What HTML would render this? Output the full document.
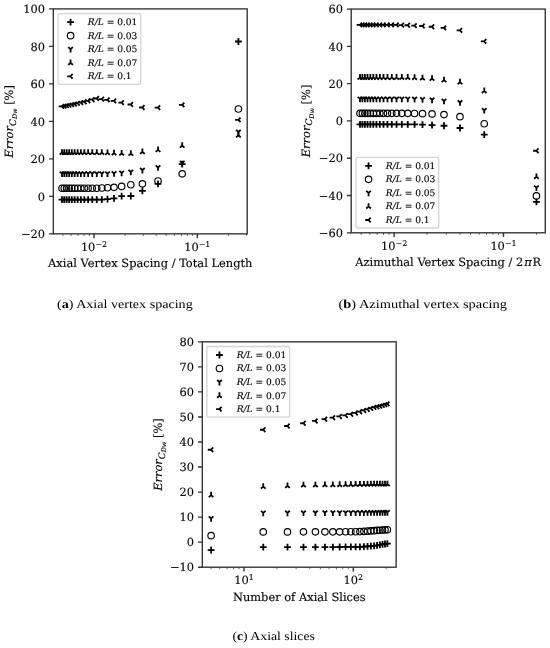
<!DOCTYPE html>
<html lang="en"><head><meta charset="utf-8"><title>Figure</title>
<style>
html,body{margin:0;padding:0;background:#fff;}
body{width:550px;height:648px;overflow:hidden;}
svg{display:block;}
</style></head><body>
<svg width="550" height="648" viewBox="0 0 550 648" text-rendering="geometricPrecision">
<rect width="550" height="648" fill="#fff"/>
<defs>
<g id="m0"><path d="M-3.4,0H3.4M0,-3.4V3.4"/></g>
<g id="m1"><circle r="3.25" fill="none" stroke-width="1.15"/></g>
<g id="m2"><path d="M0,0V3.3M0,0L2.32,-2.07M0,0L-2.32,-2.07"/></g>
<g id="m3"><path d="M0,0V-3.3M0,0L2.32,2.07M0,0L-2.32,2.07"/></g>
<g id="m4"><path d="M0,0H-3.3M0,0L2.07,2.32M0,0L2.07,-2.32"/></g>
</defs>
<g stroke="#000" stroke-width="1.8" fill="none">
<use href="#m0" x="238.41" y="41.52"/>
<use href="#m0" x="182.20" y="164.12"/>
<use href="#m0" x="158.02" y="183.80"/>
<use href="#m0" x="142.40" y="190.92"/>
<use href="#m0" x="130.83" y="195.98"/>
<use href="#m0" x="121.64" y="196.17"/>
<use href="#m0" x="114.02" y="198.42"/>
<use href="#m0" x="107.51" y="199.17"/>
<use href="#m0" x="101.82" y="199.55"/>
<use href="#m0" x="96.78" y="199.55"/>
<use href="#m0" x="92.24" y="199.55"/>
<use href="#m0" x="88.12" y="199.55"/>
<use href="#m0" x="84.35" y="199.55"/>
<use href="#m0" x="80.87" y="199.55"/>
<use href="#m0" x="77.64" y="199.55"/>
<use href="#m0" x="74.63" y="199.55"/>
<use href="#m0" x="71.81" y="199.55"/>
<use href="#m0" x="69.15" y="199.55"/>
<use href="#m0" x="66.64" y="199.55"/>
<use href="#m0" x="64.27" y="199.55"/>
<use href="#m0" x="62.02" y="199.55"/>
<use href="#m1" x="238.41" y="109.00"/>
<use href="#m1" x="182.20" y="173.86"/>
<use href="#m1" x="158.02" y="180.99"/>
<use href="#m1" x="142.40" y="183.80"/>
<use href="#m1" x="130.83" y="184.74"/>
<use href="#m1" x="121.64" y="186.42"/>
<use href="#m1" x="114.02" y="187.36"/>
<use href="#m1" x="107.51" y="187.74"/>
<use href="#m1" x="101.82" y="188.02"/>
<use href="#m1" x="96.78" y="188.20"/>
<use href="#m1" x="92.24" y="188.20"/>
<use href="#m1" x="88.12" y="188.20"/>
<use href="#m1" x="84.35" y="188.20"/>
<use href="#m1" x="80.87" y="188.20"/>
<use href="#m1" x="77.64" y="188.20"/>
<use href="#m1" x="74.63" y="188.20"/>
<use href="#m1" x="71.81" y="188.20"/>
<use href="#m1" x="69.15" y="188.20"/>
<use href="#m1" x="66.64" y="188.20"/>
<use href="#m1" x="64.27" y="188.20"/>
<use href="#m1" x="62.02" y="188.20"/>
<use href="#m2" x="238.41" y="131.87"/>
<use href="#m2" x="182.20" y="162.99"/>
<use href="#m2" x="158.02" y="167.49"/>
<use href="#m2" x="142.40" y="170.11"/>
<use href="#m2" x="130.83" y="171.99"/>
<use href="#m2" x="121.64" y="172.93"/>
<use href="#m2" x="114.02" y="173.49"/>
<use href="#m2" x="107.51" y="173.68"/>
<use href="#m2" x="101.82" y="173.68"/>
<use href="#m2" x="96.78" y="173.68"/>
<use href="#m2" x="92.24" y="173.68"/>
<use href="#m2" x="88.12" y="173.68"/>
<use href="#m2" x="84.35" y="173.68"/>
<use href="#m2" x="80.87" y="173.68"/>
<use href="#m2" x="77.64" y="173.68"/>
<use href="#m2" x="74.63" y="173.68"/>
<use href="#m2" x="71.81" y="173.68"/>
<use href="#m2" x="69.15" y="173.68"/>
<use href="#m2" x="66.64" y="173.68"/>
<use href="#m2" x="64.27" y="173.68"/>
<use href="#m2" x="62.02" y="173.68"/>
<use href="#m3" x="238.41" y="135.25"/>
<use href="#m3" x="182.20" y="145.56"/>
<use href="#m3" x="158.02" y="149.87"/>
<use href="#m3" x="142.40" y="151.74"/>
<use href="#m3" x="130.83" y="153.62"/>
<use href="#m3" x="121.64" y="153.24"/>
<use href="#m3" x="114.02" y="153.06"/>
<use href="#m3" x="107.51" y="152.68"/>
<use href="#m3" x="101.82" y="152.59"/>
<use href="#m3" x="96.78" y="152.59"/>
<use href="#m3" x="92.24" y="152.59"/>
<use href="#m3" x="88.12" y="152.59"/>
<use href="#m3" x="84.35" y="152.59"/>
<use href="#m3" x="80.87" y="152.59"/>
<use href="#m3" x="77.64" y="152.59"/>
<use href="#m3" x="74.63" y="152.59"/>
<use href="#m3" x="71.81" y="152.59"/>
<use href="#m3" x="69.15" y="152.59"/>
<use href="#m3" x="66.64" y="152.59"/>
<use href="#m3" x="64.27" y="152.59"/>
<use href="#m3" x="62.02" y="152.59"/>
<use href="#m4" x="238.41" y="119.88"/>
<use href="#m4" x="182.20" y="104.88"/>
<use href="#m4" x="158.02" y="107.69"/>
<use href="#m4" x="142.40" y="107.50"/>
<use href="#m4" x="130.83" y="104.50"/>
<use href="#m4" x="121.64" y="102.63"/>
<use href="#m4" x="114.02" y="100.94"/>
<use href="#m4" x="107.51" y="99.82"/>
<use href="#m4" x="101.82" y="99.07"/>
<use href="#m4" x="96.78" y="98.51"/>
<use href="#m4" x="92.24" y="99.72"/>
<use href="#m4" x="88.12" y="100.79"/>
<use href="#m4" x="84.35" y="101.75"/>
<use href="#m4" x="80.87" y="102.60"/>
<use href="#m4" x="77.64" y="103.36"/>
<use href="#m4" x="74.63" y="104.05"/>
<use href="#m4" x="71.81" y="104.66"/>
<use href="#m4" x="69.15" y="105.20"/>
<use href="#m4" x="66.64" y="105.68"/>
<use href="#m4" x="64.27" y="106.08"/>
<use href="#m4" x="62.02" y="106.38"/>
</g>
<path d="M53.30,233.85h-4.3M53.30,196.36h-4.3M53.30,158.87h-4.3M53.30,121.38h-4.3M53.30,83.88h-4.3M53.30,46.39h-4.3M53.30,8.90h-4.3M94.00,233.85v4.3M197.30,233.85v4.3" stroke="#303030" stroke-width="1.35" fill="none"/>
<path d="M62.90,233.85v2.1M71.08,233.85v2.1M78.00,233.85v2.1M83.99,233.85v2.1M89.27,233.85v2.1M125.10,233.85v2.1M143.29,233.85v2.1M156.19,233.85v2.1M166.20,233.85v2.1M174.38,233.85v2.1M181.30,233.85v2.1M187.29,233.85v2.1M192.57,233.85v2.1M228.40,233.85v2.1M246.59,233.85v2.1" stroke="#000" stroke-width="0.6" fill="none"/>
<rect x="58.00" y="13.60" width="82.7" height="70.7" rx="2" ry="2" fill="#fff" fill-opacity="0.8" stroke="#d4d4d4" stroke-width="1.3"/>
<g stroke="#000" stroke-width="1.8" fill="none">
<use href="#m0" x="70.55" y="22.10"/>
<use href="#m1" x="70.55" y="35.65"/>
<use href="#m2" x="70.55" y="49.20"/>
<use href="#m3" x="70.55" y="62.75"/>
<use href="#m4" x="70.55" y="76.30"/>
</g>
<g font-family="'DejaVu Serif','Liberation Serif',serif" font-size="9.1" fill="#000" stroke="#000" stroke-width="0.12">
<text x="87.80" y="25.00"><tspan font-style="italic">R/L</tspan> = 0.01</text>
<text x="87.80" y="38.55"><tspan font-style="italic">R/L</tspan> = 0.03</text>
<text x="87.80" y="52.10"><tspan font-style="italic">R/L</tspan> = 0.05</text>
<text x="87.80" y="65.65"><tspan font-style="italic">R/L</tspan> = 0.07</text>
<text x="87.80" y="79.20"><tspan font-style="italic">R/L</tspan> = 0.1</text>
</g>
<rect x="53.30" y="8.90" width="193.90" height="224.95" fill="none" stroke="#303030" stroke-width="1.35"/>
<g font-family="'DejaVu Serif','Liberation Serif',serif" font-size="11.4" fill="#000" stroke="#000" stroke-width="0.12">
<text x="45.00" y="238.10" text-anchor="end">−20</text>
<text x="45.00" y="200.61" text-anchor="end">0</text>
<text x="45.00" y="163.12" text-anchor="end">20</text>
<text x="45.00" y="125.62" text-anchor="end">40</text>
<text x="45.00" y="88.13" text-anchor="end">60</text>
<text x="45.00" y="50.64" text-anchor="end">80</text>
<text x="45.00" y="13.15" text-anchor="end">100</text>
<text x="94.00" y="250.85" text-anchor="middle">10<tspan font-size="7.98" dy="-4.1">−2</tspan></text>
<text x="197.30" y="250.85" text-anchor="middle">10<tspan font-size="7.98" dy="-4.1">−1</tspan></text>
</g>
<text x="150.25" y="267.35" text-anchor="middle" font-family="'DejaVu Serif','Liberation Serif',serif" font-size="11.43" fill="#000" stroke="#000" stroke-width="0.12">Axial Vertex Spacing / Total Length</text>
<text transform="translate(13.30,121.38) rotate(-90)" text-anchor="middle" font-family="'DejaVu Serif','Liberation Serif',serif" font-size="11.43" fill="#000" stroke="#000" stroke-width="0.12"><tspan font-style="italic">Error</tspan><tspan font-style="italic" font-size="9.14" dy="2.4">C</tspan><tspan font-style="italic" font-size="6.40" dy="1.5">Dw</tspan><tspan dy="-3.9"> [%]</tspan></text>
<g stroke="#000" stroke-width="1.8" fill="none">
<use href="#m0" x="536.43" y="201.85"/>
<use href="#m0" x="484.24" y="134.72"/>
<use href="#m0" x="459.97" y="128.01"/>
<use href="#m0" x="443.98" y="125.77"/>
<use href="#m0" x="432.04" y="125.03"/>
<use href="#m0" x="422.50" y="124.65"/>
<use href="#m0" x="414.57" y="124.47"/>
<use href="#m0" x="407.77" y="124.28"/>
<use href="#m0" x="401.82" y="124.28"/>
<use href="#m0" x="396.54" y="124.28"/>
<use href="#m0" x="391.78" y="124.28"/>
<use href="#m0" x="387.46" y="124.28"/>
<use href="#m0" x="383.50" y="124.28"/>
<use href="#m0" x="379.84" y="124.28"/>
<use href="#m0" x="376.45" y="124.28"/>
<use href="#m0" x="373.28" y="124.28"/>
<use href="#m0" x="370.31" y="124.28"/>
<use href="#m0" x="367.51" y="124.28"/>
<use href="#m0" x="364.87" y="124.28"/>
<use href="#m0" x="362.37" y="124.28"/>
<use href="#m0" x="359.99" y="124.28"/>
<use href="#m1" x="536.43" y="195.88"/>
<use href="#m1" x="484.24" y="123.72"/>
<use href="#m1" x="459.97" y="116.64"/>
<use href="#m1" x="443.98" y="114.59"/>
<use href="#m1" x="432.04" y="113.93"/>
<use href="#m1" x="422.50" y="113.65"/>
<use href="#m1" x="414.57" y="113.47"/>
<use href="#m1" x="407.77" y="113.37"/>
<use href="#m1" x="401.82" y="113.37"/>
<use href="#m1" x="396.54" y="113.37"/>
<use href="#m1" x="391.78" y="113.37"/>
<use href="#m1" x="387.46" y="113.37"/>
<use href="#m1" x="383.50" y="113.37"/>
<use href="#m1" x="379.84" y="113.37"/>
<use href="#m1" x="376.45" y="113.37"/>
<use href="#m1" x="373.28" y="113.37"/>
<use href="#m1" x="370.31" y="113.37"/>
<use href="#m1" x="367.51" y="113.37"/>
<use href="#m1" x="364.87" y="113.37"/>
<use href="#m1" x="362.37" y="113.37"/>
<use href="#m1" x="359.99" y="113.37"/>
<use href="#m2" x="536.43" y="187.68"/>
<use href="#m2" x="484.24" y="110.30"/>
<use href="#m2" x="459.97" y="102.47"/>
<use href="#m2" x="443.98" y="100.97"/>
<use href="#m2" x="432.04" y="99.86"/>
<use href="#m2" x="422.50" y="99.39"/>
<use href="#m2" x="414.57" y="99.11"/>
<use href="#m2" x="407.77" y="98.92"/>
<use href="#m2" x="401.82" y="98.92"/>
<use href="#m2" x="396.54" y="98.92"/>
<use href="#m2" x="391.78" y="98.92"/>
<use href="#m2" x="387.46" y="98.92"/>
<use href="#m2" x="383.50" y="98.92"/>
<use href="#m2" x="379.84" y="98.92"/>
<use href="#m2" x="376.45" y="98.92"/>
<use href="#m2" x="373.28" y="98.92"/>
<use href="#m2" x="370.31" y="98.92"/>
<use href="#m2" x="367.51" y="98.92"/>
<use href="#m2" x="364.87" y="98.92"/>
<use href="#m2" x="362.37" y="98.92"/>
<use href="#m2" x="359.99" y="98.92"/>
<use href="#m3" x="536.43" y="176.68"/>
<use href="#m3" x="484.24" y="90.91"/>
<use href="#m3" x="459.97" y="82.14"/>
<use href="#m3" x="443.98" y="80.09"/>
<use href="#m3" x="432.04" y="78.60"/>
<use href="#m3" x="422.50" y="78.04"/>
<use href="#m3" x="414.57" y="77.67"/>
<use href="#m3" x="407.77" y="77.39"/>
<use href="#m3" x="401.82" y="77.39"/>
<use href="#m3" x="396.54" y="77.39"/>
<use href="#m3" x="391.78" y="77.39"/>
<use href="#m3" x="387.46" y="77.39"/>
<use href="#m3" x="383.50" y="77.39"/>
<use href="#m3" x="379.84" y="77.39"/>
<use href="#m3" x="376.45" y="77.39"/>
<use href="#m3" x="373.28" y="77.39"/>
<use href="#m3" x="370.31" y="77.39"/>
<use href="#m3" x="367.51" y="77.39"/>
<use href="#m3" x="364.87" y="77.39"/>
<use href="#m3" x="362.37" y="77.39"/>
<use href="#m3" x="359.99" y="77.39"/>
<use href="#m4" x="536.43" y="150.76"/>
<use href="#m4" x="484.24" y="41.31"/>
<use href="#m4" x="459.97" y="30.31"/>
<use href="#m4" x="443.98" y="27.88"/>
<use href="#m4" x="432.04" y="26.76"/>
<use href="#m4" x="422.50" y="26.02"/>
<use href="#m4" x="414.57" y="25.64"/>
<use href="#m4" x="407.77" y="25.27"/>
<use href="#m4" x="401.82" y="25.09"/>
<use href="#m4" x="396.54" y="24.90"/>
<use href="#m4" x="391.78" y="24.90"/>
<use href="#m4" x="387.46" y="24.90"/>
<use href="#m4" x="383.50" y="24.90"/>
<use href="#m4" x="379.84" y="24.90"/>
<use href="#m4" x="376.45" y="24.90"/>
<use href="#m4" x="373.28" y="24.90"/>
<use href="#m4" x="370.31" y="24.90"/>
<use href="#m4" x="367.51" y="24.90"/>
<use href="#m4" x="364.87" y="24.90"/>
<use href="#m4" x="362.37" y="24.90"/>
<use href="#m4" x="359.99" y="24.90"/>
</g>
<path d="M351.20,232.80h-4.3M351.20,195.51h-4.3M351.20,158.22h-4.3M351.20,120.93h-4.3M351.20,83.63h-4.3M351.20,46.34h-4.3M351.20,9.05h-4.3M394.10,232.80v4.3M503.50,232.80v4.3" stroke="#303030" stroke-width="1.35" fill="none"/>
<path d="M361.17,232.80v2.1M369.83,232.80v2.1M377.15,232.80v2.1M383.50,232.80v2.1M389.09,232.80v2.1M427.03,232.80v2.1M446.30,232.80v2.1M459.97,232.80v2.1M470.57,232.80v2.1M479.23,232.80v2.1M486.55,232.80v2.1M492.90,232.80v2.1M498.49,232.80v2.1M536.43,232.80v2.1" stroke="#000" stroke-width="0.6" fill="none"/>
<rect x="356.00" y="157.30" width="82.7" height="70.7" rx="2" ry="2" fill="#fff" fill-opacity="0.8" stroke="#d4d4d4" stroke-width="1.3"/>
<g stroke="#000" stroke-width="1.8" fill="none">
<use href="#m0" x="368.55" y="165.80"/>
<use href="#m1" x="368.55" y="179.35"/>
<use href="#m2" x="368.55" y="192.90"/>
<use href="#m3" x="368.55" y="206.45"/>
<use href="#m4" x="368.55" y="220.00"/>
</g>
<g font-family="'DejaVu Serif','Liberation Serif',serif" font-size="9.1" fill="#000" stroke="#000" stroke-width="0.12">
<text x="385.80" y="168.70"><tspan font-style="italic">R/L</tspan> = 0.01</text>
<text x="385.80" y="182.25"><tspan font-style="italic">R/L</tspan> = 0.03</text>
<text x="385.80" y="195.80"><tspan font-style="italic">R/L</tspan> = 0.05</text>
<text x="385.80" y="209.35"><tspan font-style="italic">R/L</tspan> = 0.07</text>
<text x="385.80" y="222.90"><tspan font-style="italic">R/L</tspan> = 0.1</text>
</g>
<rect x="351.20" y="9.05" width="194.05" height="223.75" fill="none" stroke="#303030" stroke-width="1.35"/>
<g font-family="'DejaVu Serif','Liberation Serif',serif" font-size="11.4" fill="#000" stroke="#000" stroke-width="0.12">
<text x="342.90" y="237.05" text-anchor="end">−60</text>
<text x="342.90" y="199.76" text-anchor="end">−40</text>
<text x="342.90" y="162.47" text-anchor="end">−20</text>
<text x="342.90" y="125.18" text-anchor="end">0</text>
<text x="342.90" y="87.88" text-anchor="end">20</text>
<text x="342.90" y="50.59" text-anchor="end">40</text>
<text x="342.90" y="13.30" text-anchor="end">60</text>
<text x="394.10" y="249.80" text-anchor="middle">10<tspan font-size="7.98" dy="-4.1">−2</tspan></text>
<text x="503.50" y="249.80" text-anchor="middle">10<tspan font-size="7.98" dy="-4.1">−1</tspan></text>
</g>
<text x="448.23" y="266.30" text-anchor="middle" font-family="'DejaVu Serif','Liberation Serif',serif" font-size="11.43" fill="#000" stroke="#000" stroke-width="0.12">Azimuthal Vertex Spacing / 2<tspan font-style="italic" dx="0.9">π</tspan><tspan dx="0.9">R</tspan></text>
<text transform="translate(310.00,120.93) rotate(-90)" text-anchor="middle" font-family="'DejaVu Serif','Liberation Serif',serif" font-size="11.43" fill="#000" stroke="#000" stroke-width="0.12"><tspan font-style="italic">Error</tspan><tspan font-style="italic" font-size="9.14" dy="2.4">C</tspan><tspan font-style="italic" font-size="6.40" dy="1.5">Dw</tspan><tspan dy="-3.9"> [%]</tspan></text>
<g stroke="#000" stroke-width="1.8" fill="none">
<use href="#m0" x="211.10" y="550.17"/>
<use href="#m0" x="263.25" y="547.17"/>
<use href="#m0" x="287.49" y="547.14"/>
<use href="#m0" x="303.47" y="547.11"/>
<use href="#m0" x="315.40" y="547.09"/>
<use href="#m0" x="324.92" y="547.06"/>
<use href="#m0" x="332.85" y="547.03"/>
<use href="#m0" x="339.64" y="547.00"/>
<use href="#m0" x="345.59" y="546.97"/>
<use href="#m0" x="350.87" y="546.95"/>
<use href="#m0" x="355.62" y="546.92"/>
<use href="#m0" x="359.93" y="546.79"/>
<use href="#m0" x="363.89" y="546.67"/>
<use href="#m0" x="367.55" y="546.38"/>
<use href="#m0" x="370.94" y="546.08"/>
<use href="#m0" x="374.10" y="545.79"/>
<use href="#m0" x="377.07" y="545.33"/>
<use href="#m0" x="379.86" y="544.87"/>
<use href="#m0" x="382.50" y="544.41"/>
<use href="#m0" x="385.00" y="543.98"/>
<use href="#m0" x="387.37" y="543.54"/>
<use href="#m1" x="211.10" y="535.65"/>
<use href="#m1" x="263.25" y="531.90"/>
<use href="#m1" x="287.49" y="531.88"/>
<use href="#m1" x="303.47" y="531.87"/>
<use href="#m1" x="315.40" y="531.85"/>
<use href="#m1" x="324.92" y="531.84"/>
<use href="#m1" x="332.85" y="531.83"/>
<use href="#m1" x="339.64" y="531.81"/>
<use href="#m1" x="345.59" y="531.80"/>
<use href="#m1" x="350.87" y="531.78"/>
<use href="#m1" x="355.62" y="531.77"/>
<use href="#m1" x="359.93" y="531.58"/>
<use href="#m1" x="363.89" y="531.39"/>
<use href="#m1" x="367.55" y="531.14"/>
<use href="#m1" x="370.94" y="530.89"/>
<use href="#m1" x="374.10" y="530.64"/>
<use href="#m1" x="377.07" y="530.43"/>
<use href="#m1" x="379.86" y="530.23"/>
<use href="#m1" x="382.50" y="530.02"/>
<use href="#m1" x="385.00" y="529.89"/>
<use href="#m1" x="387.37" y="529.77"/>
<use href="#m2" x="211.10" y="518.37"/>
<use href="#m2" x="263.25" y="512.87"/>
<use href="#m2" x="287.49" y="512.84"/>
<use href="#m2" x="303.47" y="512.81"/>
<use href="#m2" x="315.40" y="512.79"/>
<use href="#m2" x="324.92" y="512.76"/>
<use href="#m2" x="332.85" y="512.73"/>
<use href="#m2" x="339.64" y="512.71"/>
<use href="#m2" x="345.59" y="512.68"/>
<use href="#m2" x="350.87" y="512.65"/>
<use href="#m2" x="355.62" y="512.63"/>
<use href="#m2" x="359.93" y="512.60"/>
<use href="#m2" x="363.89" y="512.58"/>
<use href="#m2" x="367.55" y="512.55"/>
<use href="#m2" x="370.94" y="512.52"/>
<use href="#m2" x="374.10" y="512.50"/>
<use href="#m2" x="377.07" y="512.47"/>
<use href="#m2" x="379.86" y="512.44"/>
<use href="#m2" x="382.50" y="512.42"/>
<use href="#m2" x="385.00" y="512.39"/>
<use href="#m2" x="387.37" y="512.36"/>
<use href="#m3" x="211.10" y="495.09"/>
<use href="#m3" x="263.25" y="486.57"/>
<use href="#m3" x="287.49" y="485.82"/>
<use href="#m3" x="303.47" y="485.07"/>
<use href="#m3" x="315.40" y="484.97"/>
<use href="#m3" x="324.92" y="484.86"/>
<use href="#m3" x="332.85" y="484.75"/>
<use href="#m3" x="339.64" y="484.64"/>
<use href="#m3" x="345.59" y="484.54"/>
<use href="#m3" x="350.87" y="484.43"/>
<use href="#m3" x="355.62" y="484.32"/>
<use href="#m3" x="359.93" y="484.28"/>
<use href="#m3" x="363.89" y="484.25"/>
<use href="#m3" x="367.55" y="484.21"/>
<use href="#m3" x="370.94" y="484.17"/>
<use href="#m3" x="374.10" y="484.13"/>
<use href="#m3" x="377.07" y="484.10"/>
<use href="#m3" x="379.86" y="484.06"/>
<use href="#m3" x="382.50" y="484.02"/>
<use href="#m3" x="385.00" y="483.98"/>
<use href="#m3" x="387.37" y="483.95"/>
<use href="#m4" x="211.10" y="449.77"/>
<use href="#m4" x="263.25" y="429.74"/>
<use href="#m4" x="287.49" y="425.98"/>
<use href="#m4" x="303.47" y="423.23"/>
<use href="#m4" x="315.40" y="420.97"/>
<use href="#m4" x="324.92" y="419.22"/>
<use href="#m4" x="332.85" y="417.72"/>
<use href="#m4" x="339.64" y="416.47"/>
<use href="#m4" x="345.59" y="415.46"/>
<use href="#m4" x="350.87" y="414.21"/>
<use href="#m4" x="355.62" y="412.96"/>
<use href="#m4" x="359.93" y="411.71"/>
<use href="#m4" x="363.89" y="410.46"/>
<use href="#m4" x="367.55" y="409.46"/>
<use href="#m4" x="370.94" y="408.45"/>
<use href="#m4" x="374.10" y="407.45"/>
<use href="#m4" x="377.07" y="406.75"/>
<use href="#m4" x="379.86" y="406.05"/>
<use href="#m4" x="382.50" y="405.35"/>
<use href="#m4" x="385.00" y="404.65"/>
<use href="#m4" x="387.37" y="403.95"/>
</g>
<path d="M202.30,567.20h-4.3M202.30,542.16h-4.3M202.30,517.12h-4.3M202.30,492.08h-4.3M202.30,467.04h-4.3M202.30,442.01h-4.3M202.30,416.97h-4.3M202.30,391.93h-4.3M202.30,366.89h-4.3M202.30,341.85h-4.3M244.00,567.20v4.3M353.30,567.20v4.3" stroke="#303030" stroke-width="1.35" fill="none"/>
<path d="M211.10,567.20v2.1M219.75,567.20v2.1M227.07,567.20v2.1M233.41,567.20v2.1M239.00,567.20v2.1M276.90,567.20v2.1M296.15,567.20v2.1M309.81,567.20v2.1M320.40,567.20v2.1M329.05,567.20v2.1M336.37,567.20v2.1M342.71,567.20v2.1M348.30,567.20v2.1M386.20,567.20v2.1" stroke="#000" stroke-width="0.6" fill="none"/>
<rect x="206.90" y="346.50" width="82.7" height="70.7" rx="2" ry="2" fill="#fff" fill-opacity="0.8" stroke="#d4d4d4" stroke-width="1.3"/>
<g stroke="#000" stroke-width="1.8" fill="none">
<use href="#m0" x="219.45" y="355.00"/>
<use href="#m1" x="219.45" y="368.55"/>
<use href="#m2" x="219.45" y="382.10"/>
<use href="#m3" x="219.45" y="395.65"/>
<use href="#m4" x="219.45" y="409.20"/>
</g>
<g font-family="'DejaVu Serif','Liberation Serif',serif" font-size="9.1" fill="#000" stroke="#000" stroke-width="0.12">
<text x="236.70" y="357.90"><tspan font-style="italic">R/L</tspan> = 0.01</text>
<text x="236.70" y="371.45"><tspan font-style="italic">R/L</tspan> = 0.03</text>
<text x="236.70" y="385.00"><tspan font-style="italic">R/L</tspan> = 0.05</text>
<text x="236.70" y="398.55"><tspan font-style="italic">R/L</tspan> = 0.07</text>
<text x="236.70" y="412.10"><tspan font-style="italic">R/L</tspan> = 0.1</text>
</g>
<rect x="202.30" y="341.85" width="193.85" height="225.35" fill="none" stroke="#303030" stroke-width="1.35"/>
<g font-family="'DejaVu Serif','Liberation Serif',serif" font-size="11.4" fill="#000" stroke="#000" stroke-width="0.12">
<text x="194.00" y="571.45" text-anchor="end">−10</text>
<text x="194.00" y="546.41" text-anchor="end">0</text>
<text x="194.00" y="521.37" text-anchor="end">10</text>
<text x="194.00" y="496.33" text-anchor="end">20</text>
<text x="194.00" y="471.29" text-anchor="end">30</text>
<text x="194.00" y="446.26" text-anchor="end">40</text>
<text x="194.00" y="421.22" text-anchor="end">50</text>
<text x="194.00" y="396.18" text-anchor="end">60</text>
<text x="194.00" y="371.14" text-anchor="end">70</text>
<text x="194.00" y="346.10" text-anchor="end">80</text>
<text x="244.00" y="584.20" text-anchor="middle">10<tspan font-size="7.98" dy="-4.1">1</tspan></text>
<text x="353.30" y="584.20" text-anchor="middle">10<tspan font-size="7.98" dy="-4.1">2</tspan></text>
</g>
<text x="299.23" y="600.70" text-anchor="middle" font-family="'DejaVu Serif','Liberation Serif',serif" font-size="11.43" fill="#000" stroke="#000" stroke-width="0.12">Number of Axial Slices</text>
<text transform="translate(162.30,454.53) rotate(-90)" text-anchor="middle" font-family="'DejaVu Serif','Liberation Serif',serif" font-size="11.43" fill="#000" stroke="#000" stroke-width="0.12"><tspan font-style="italic">Error</tspan><tspan font-style="italic" font-size="9.14" dy="2.4">C</tspan><tspan font-style="italic" font-size="6.40" dy="1.5">Dw</tspan><tspan dy="-3.9"> [%]</tspan></text>
<text x="57.0" y="307.8" font-family="'Liberation Serif',serif" font-size="12.2" fill="#000" textLength="135.7" lengthAdjust="spacingAndGlyphs">(<tspan font-weight="bold">a</tspan>) Axial vertex spacing</text>
<text x="338.5" y="307.8" font-family="'Liberation Serif',serif" font-size="12.2" fill="#000" textLength="168.5" lengthAdjust="spacingAndGlyphs">(<tspan font-weight="bold">b</tspan>) Azimuthal vertex spacing</text>
<text x="232.4" y="640.0" font-family="'Liberation Serif',serif" font-size="12.2" fill="#000" textLength="82.5" lengthAdjust="spacingAndGlyphs">(<tspan font-weight="bold">c</tspan>) Axial slices</text>
</svg>
</body></html>
